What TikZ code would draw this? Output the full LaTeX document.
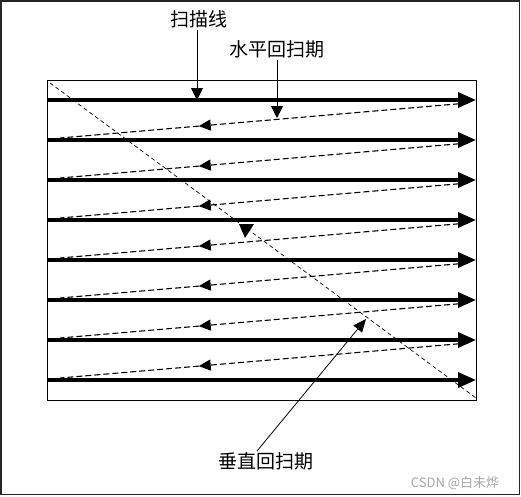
\documentclass[tikz,border=0pt]{standalone}
\usepackage{fontspec}
\newfontfamily\cjk{Noto Sans CJK SC}
\usetikzlibrary{arrows.meta,decorations.markings}
\begin{document}
\begin{tikzpicture}[x=1pt,y=-1pt,
  scanline/.style={line width=3.4pt,-{Triangle[length=18pt,width=15pt]}},
  retrace/.style={line width=1.1pt,dash pattern=on 6pt off 3pt,
    postaction={decorate},
    decoration={markings,mark=at position 0.66 with {\arrow{Triangle[length=12pt,width=11pt]}}}},
  vretrace/.style={line width=0.7pt,dash pattern=on 4pt off 3pt},
  pointer/.style={line width=0.9pt,-{Triangle[length=12pt,width=12pt]}},
  leader/.style={line width=0.8pt,-{Triangle[length=13pt,width=11pt]}},
  lab/.style={font=\cjk\fontsize{19}{19}\selectfont,inner sep=0pt},
  wm/.style={font=\cjk\fontsize{13}{13}\selectfont,text=black!35,inner sep=0pt}
]
\useasboundingbox (0,0) rectangle (521,496);
\fill[white] (0,0) rectangle (521,496);
\draw[line width=1.5pt,black!85] (1,1) rectangle (519.5,494.5);
% inner frame
\draw[line width=1pt] (47,80) rectangle (476,400);
% vertical retrace
\draw[vretrace] (50,83) -- (476,398);
\fill (239,224) -- (254,224) -- (245,238) -- cycle;
% horizontal retraces
\foreach \y in {100,140,...,340} \draw[retrace] (468,\y+3) -- (60,\y+38);
% scan lines
\foreach \y in {100,140,...,380} \draw[scanline] (47,\y) -- (476,\y);
% labels
\node[lab] (scan) at (199,19) {扫描线};
\node[lab] (hret) at (277,49) {水平回扫期};
\node[lab] (vret) at (266,461) {垂直回扫期};
\coordinate (scanTip) at (197,100);
\coordinate (hretTip) at (277,118);
\coordinate (vretTip) at (366,319);
\draw[pointer] (scan.south -| scanTip) ++(0,2) -- (scanTip);
\draw[pointer] (hret.south -| hretTip) ++(0,2) -- (hretTip);
\draw[leader] (257,451) -- (vretTip);
% watermark
\node[wm] (mark) at (455,483) {CSDN @白未烨};
\end{tikzpicture}
\end{document}
